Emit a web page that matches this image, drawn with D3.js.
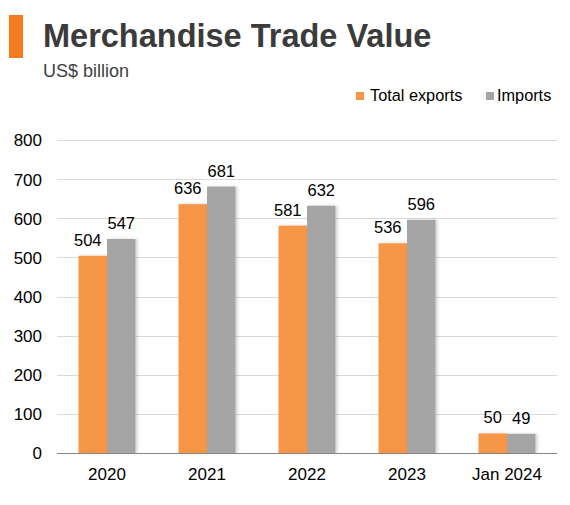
<!DOCTYPE html>
<html>
<head>
<meta charset="utf-8">
<script src="https://cdn.jsdelivr.net/npm/d3@7"></script>
<style>
  body { margin: 0; background: #fff; }
  text { font-family: "Liberation Sans", Arial, sans-serif; }
</style>
</head>
<body>
<svg id="chart" width="570" height="505"></svg>
<script>
var categories = ["2020", "2021", "2022", "2023", "Jan 2024"]
var exportsVals = [504, 636, 581, 536, 50]
var importsVals = [547, 681, 632, 596, 49]
var yTicks = [0, 100, 200, 300, 400, 500, 600, 700, 800]
var seriesNames = ["Total exports", "Imports"]
var seriesColors = ["#F79646", "#A5A5A5"]

var svg = d3.select("#chart")
var plotLeft = 57, plotRight = 557, plotTop = 140, plotBottom = 453

var defs = svg.append("defs")
var f = defs.append("filter").attr("id", "shadow")
  .attr("x", "-20%").attr("y", "-10%").attr("width", "150%").attr("height", "120%")
f.append("feDropShadow").attr("dx", 2).attr("dy", 0).attr("stdDeviation", 1.5)
  .attr("flood-color", "#000").attr("flood-opacity", 0.18)

// title block
svg.append("rect").attr("x", 9).attr("y", 15).attr("width", 14).attr("height", 43).attr("fill", "#F47B20")
svg.append("text").attr("x", 43).attr("y", 47)
  .style("font-size", "32.5px").style("font-weight", "bold").attr("fill", "#3B3B3B")
  .text("Merchandise Trade Value")
svg.append("text").attr("x", 43).attr("y", 77)
  .style("font-size", "18px").attr("fill", "#404040")
  .text("US$ billion")

// legend
var legendSq = [356, 486]
var legendTx = [370, 497]
seriesNames.forEach((s, i) => {
  svg.append("rect").attr("x", legendSq[i]).attr("y", 92).attr("width", 8).attr("height", 8).attr("fill", seriesColors[i])
  svg.append("text").attr("x", legendTx[i]).attr("y", 101)
    .style("font-size", "16.3px").attr("fill", "#000").text(s)
})

var x0 = d3.scaleBand().domain(categories).range([plotLeft, plotRight]).paddingInner(0.43).paddingOuter(0.215)
var x1 = d3.scaleBand().domain([0, 1]).range([0, x0.bandwidth()])
var y = d3.scaleLinear().domain([0, 800]).range([plotBottom, plotTop])

// gridlines
svg.append("g").selectAll("line").data(yTicks.slice(1)).enter().append("line")
  .attr("x1", plotLeft).attr("x2", plotRight)
  .attr("y1", d => Math.round(y(d)) + 0.5).attr("y2", d => Math.round(y(d)) + 0.5)
  .attr("stroke", "#D9D9D9").attr("stroke-width", 1)

// y labels
var yAxis = d3.axisLeft(y).tickValues(yTicks).tickSize(0).tickPadding(0)
var yg = svg.append("g").attr("transform", "translate(42,0)").call(yAxis)
yg.select(".domain").remove()
yg.selectAll("text").style("font-size", "17px").attr("fill", "#000").attr("dy", "0.35em")
  .style("font-family", "'Liberation Sans', Arial, sans-serif")

var rows = categories.map((c, i) => ({cat: c, vals: [exportsVals[i], importsVals[i]]}))

var groups = svg.append("g").selectAll("g").data(rows).enter().append("g")
  .attr("transform", d => "translate(" + x0(d.cat) + ",0)")

groups.selectAll("rect").data(d => d.vals.map((v, k) => ({v: v, k: k}))).enter().append("rect")
  .attr("x", d => x1(d.k))
  .attr("y", d => y(d.v))
  .attr("width", x1.bandwidth())
  .attr("height", d => plotBottom - y(d.v))
  .attr("fill", d => seriesColors[d.k])
  .attr("filter", "url(#shadow)")

groups.selectAll("text").data(d => d.vals.map((v, k) => ({v: v, k: k}))).enter().append("text")
  .attr("x", d => x1(d.k) + x1.bandwidth() / 2 - (d.k == 0 && d.v > 100 ? 5 : 0))
  .attr("y", d => y(d.v) - 10)
  .attr("text-anchor", "middle")
  .style("font-size", "16.5px").attr("fill", "#000")
  .text(d => d.v)

// x axis
var xAxis = d3.axisBottom(x0).tickSize(0).tickPadding(15)
var xg = svg.append("g").attr("transform", "translate(0," + plotBottom + ")").call(xAxis)
xg.select(".domain").attr("stroke", "#868686").attr("d", "M" + plotLeft + ",0.5H" + plotRight)
xg.selectAll("text").style("font-size", "17px").attr("fill", "#000")
  .style("font-family", "'Liberation Sans', Arial, sans-serif")
</script>
</body>
</html>
